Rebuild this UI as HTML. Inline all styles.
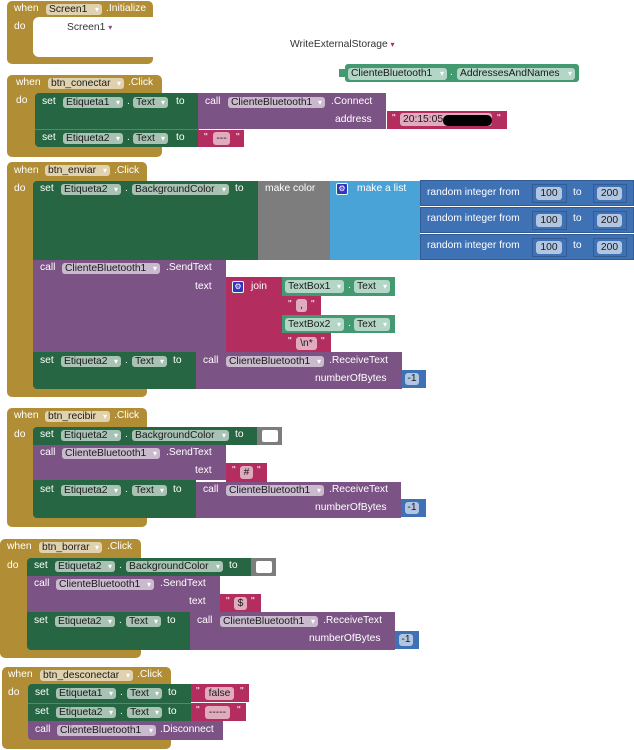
<!DOCTYPE html>
<html><head><meta charset="utf-8">
<style>
body{margin:0;width:634px;height:750px;background:#fff;position:relative;overflow:hidden;font-family:"Liberation Sans",Arial,sans-serif;font-size:10.3px}
.r{position:absolute}
.t{position:absolute;color:#fff;white-space:nowrap;line-height:12px}
.k{position:absolute;color:#333;white-space:nowrap;line-height:12px}
.d{position:absolute;background:rgba(255,255,255,.6);border-radius:3px;color:#1a1a1a;line-height:11px;padding-left:3px;box-sizing:border-box;white-space:nowrap;height:11px}
.d i{position:absolute;right:3px;top:0;font-style:normal;font-size:8px;color:#fff}
.f{position:absolute;background:rgba(255,255,255,.6);border-radius:3px;color:#1a1a1a;line-height:13px;height:13px;text-align:center;white-space:nowrap}
.G{background:#b18e35}
.S{background:#266643}
.P{background:#7c5385}
.M{background:#b32d5e}
.C{background:#439970}
.B{background:#3f71b5}
.L{background:#4aa3d6}
.Y{background:#7d7d7d}
.gear{position:absolute;width:10px;height:10px;background:#3434c0;border:1px solid #dfe;border-radius:2px;color:#fff;font-family:"DejaVu Sans",sans-serif;font-size:8px;line-height:10px;text-align:center}
.sep{position:absolute;height:1px;background:rgba(255,255,255,.22)}
.bw{position:absolute;border:1px solid rgba(0,0,0,.18);box-sizing:border-box}
</style></head><body>

<!-- Screen1.Initialize -->
<div class="r G" style="left:7px;top:1px;width:146px;height:63px;border-radius:5px"></div>
<div class="r" style="left:33px;top:17px;width:121px;height:40px;background:#fff;border-radius:6px 0 0 6px"></div>
<div class="t" style="left:14px;top:3px">when</div>
<div class="d" style="left:46px;top:4px;width:56px">Screen1<i>▾</i></div>
<div class="t" style="left:106px;top:3px">.Initialize</div>
<div class="t" style="left:14px;top:21px">do</div>
<div class="k" style="left:67px;top:22px">Screen1 <span style="color:#7c5385;font-size:8px">▾</span></div>
<div class="k" style="left:290px;top:39px">WriteExternalStorage <span style="color:#b32d5e;font-size:8px">▾</span></div>

<!-- AddressesAndNames -->
<div class="r C" style="left:339px;top:69px;width:8px;height:8px"></div>
<div class="r C" style="left:345px;top:64px;width:234px;height:18px;border-radius:3px"></div>
<div class="d" style="left:348px;top:68px;width:99px;height:12px;line-height:12px">ClienteBluetooth1<i>▾</i></div>
<div class="t" style="left:450px;top:67px">.</div>
<div class="d" style="left:457px;top:68px;width:118px;height:12px;line-height:12px">AddressesAndNames<i>▾</i></div>

<!-- btn_conectar -->
<div class="r G" style="left:7px;top:75px;width:155px;height:82px;border-radius:5px"></div>
<div class="t" style="left:16px;top:77px">when</div>
<div class="d" style="left:48px;top:78px;width:76px">btn_conectar<i>▾</i></div>
<div class="t" style="left:128px;top:77px">.Click</div>
<div class="t" style="left:16px;top:95px">do</div>
<div class="r S" style="left:35px;top:93px;width:164px;height:54px;border-radius:4px 0 0 4px"></div>
<div class="sep" style="left:35px;top:129px;width:164px"></div>
<div class="t" style="left:42px;top:96px">set</div>
<div class="d" style="left:63px;top:97px;width:60px">Etiqueta1<i>▾</i></div>
<div class="t" style="left:127px;top:96px">.</div>
<div class="d" style="left:133px;top:97px;width:35px">Text<i>▾</i></div>
<div class="t" style="left:176px;top:96px">to</div>
<div class="r P" style="left:198px;top:93px;width:188px;height:36px"></div>
<div class="t" style="left:205px;top:96px">call</div>
<div class="d" style="left:228px;top:97px;width:97px">ClienteBluetooth1<i>▾</i></div>
<div class="t" style="left:331px;top:96px">.Connect</div>
<div class="t" style="left:335px;top:114px">address</div>
<div class="r M" style="left:387px;top:111px;width:120px;height:18px"></div>
<div class="t" style="left:392px;top:113px">"</div>
<div class="f" style="left:400px;top:113px;width:92px;text-align:left;padding-left:3px;box-sizing:border-box">20:15:05</div>
<div class="r" style="left:443px;top:115px;width:49px;height:11px;background:#000;border-radius:5px"></div>
<div class="t" style="left:497px;top:113px">"</div>
<div class="t" style="left:42px;top:132px">set</div>
<div class="d" style="left:63px;top:133px;width:60px">Etiqueta2<i>▾</i></div>
<div class="t" style="left:127px;top:132px">.</div>
<div class="d" style="left:133px;top:133px;width:35px">Text<i>▾</i></div>
<div class="t" style="left:176px;top:132px">to</div>
<div class="r M" style="left:198px;top:130px;width:46px;height:17px"></div>
<div class="t" style="left:204px;top:132px">"</div>
<div class="f" style="left:213px;top:132px;width:17px">---</div>
<div class="t" style="left:236px;top:132px">"</div>

<!-- btn_enviar -->
<div class="r G" style="left:7px;top:162px;width:140px;height:235px;border-radius:5px"></div>
<div class="t" style="left:14px;top:165px">when</div>
<div class="d" style="left:45px;top:165px;width:65px">btn_enviar<i>▾</i></div>
<div class="t" style="left:114px;top:165px">.Click</div>
<div class="t" style="left:14px;top:183px">do</div>
<div class="r S" style="left:33px;top:181px;width:225px;height:79px;border-radius:4px 0 0 0"></div>
<div class="r P" style="left:33px;top:260px;width:193px;height:92px"></div>
<div class="r S" style="left:33px;top:352px;width:163px;height:37px;border-radius:0 0 0 4px"></div>
<div class="t" style="left:40px;top:183px">set</div>
<div class="d" style="left:61px;top:184px;width:60px">Etiqueta2<i>▾</i></div>
<div class="t" style="left:125px;top:183px">.</div>
<div class="d" style="left:132px;top:184px;width:97px">BackgroundColor<i>▾</i></div>
<div class="t" style="left:235px;top:183px">to</div>
<div class="r Y" style="left:258px;top:181px;width:72px;height:79px"></div>
<div class="t" style="left:265px;top:183px">make color</div>
<div class="r L" style="left:330px;top:181px;width:90px;height:79px"></div>
<div class="gear" style="left:336px;top:183px">⚙</div>
<div class="t" style="left:357px;top:183px">make a list</div>

<div class="r B bw" style="left:420px;top:180px;width:214px;height:26px"></div>
<div class="r B bw" style="left:420px;top:207px;width:214px;height:26px"></div>
<div class="r B bw" style="left:420px;top:234px;width:214px;height:26px"></div>
<div class="t" style="left:427px;top:187px">random integer from</div>
<div class="t" style="left:427px;top:213px">random integer from</div>
<div class="t" style="left:427px;top:240px">random integer from</div>
<div class="r B bw" style="left:532px;top:184px;width:35px;height:19px"></div>
<div class="r B bw" style="left:532px;top:211px;width:35px;height:19px"></div>
<div class="r B bw" style="left:532px;top:238px;width:35px;height:19px"></div>
<div class="f" style="left:536px;top:187px;width:26px">100</div>
<div class="f" style="left:536px;top:214px;width:26px">100</div>
<div class="f" style="left:536px;top:241px;width:26px">100</div>
<div class="t" style="left:573px;top:187px">to</div>
<div class="t" style="left:573px;top:213px">to</div>
<div class="t" style="left:573px;top:240px">to</div>
<div class="r B bw" style="left:593px;top:184px;width:34px;height:19px"></div>
<div class="r B bw" style="left:593px;top:211px;width:34px;height:19px"></div>
<div class="r B bw" style="left:593px;top:238px;width:34px;height:19px"></div>
<div class="f" style="left:597px;top:187px;width:25px">200</div>
<div class="f" style="left:597px;top:214px;width:25px">200</div>
<div class="f" style="left:597px;top:241px;width:25px">200</div>

<div class="t" style="left:40px;top:262px">call</div>
<div class="d" style="left:62px;top:263px;width:98px">ClienteBluetooth1<i>▾</i></div>
<div class="t" style="left:166px;top:262px">.SendText</div>
<div class="t" style="left:195px;top:281px">text</div>
<div class="r M" style="left:226px;top:277px;width:56px;height:75px"></div>
<div class="gear" style="left:232px;top:281px">⚙</div>
<div class="t" style="left:251px;top:281px">join</div>
<div class="r C" style="left:282px;top:277px;width:113px;height:19px"></div>
<div class="d" style="left:285px;top:280px;width:59px;height:13px;line-height:13px">TextBox1<i>▾</i></div>
<div class="t" style="left:348px;top:280px">.</div>
<div class="d" style="left:354px;top:280px;width:36px;height:13px;line-height:13px">Text<i>▾</i></div>
<div class="r M" style="left:282px;top:296px;width:39px;height:19px"></div>
<div class="t" style="left:288px;top:299px">"</div>
<div class="f" style="left:296px;top:299px;width:11px">,</div>
<div class="t" style="left:311px;top:299px">"</div>
<div class="r C" style="left:282px;top:315px;width:113px;height:18px"></div>
<div class="d" style="left:285px;top:318px;width:59px;height:13px;line-height:13px">TextBox2<i>▾</i></div>
<div class="t" style="left:348px;top:318px">.</div>
<div class="d" style="left:354px;top:318px;width:36px;height:13px;line-height:13px">Text<i>▾</i></div>
<div class="r M" style="left:282px;top:333px;width:49px;height:19px"></div>
<div class="t" style="left:288px;top:336px">"</div>
<div class="f" style="left:296px;top:337px;width:21px">\n*</div>
<div class="t" style="left:321px;top:336px">"</div>

<div class="t" style="left:40px;top:355px">set</div>
<div class="d" style="left:61px;top:356px;width:60px">Etiqueta2<i>▾</i></div>
<div class="t" style="left:125px;top:355px">.</div>
<div class="d" style="left:132px;top:356px;width:35px">Text<i>▾</i></div>
<div class="t" style="left:173px;top:355px">to</div>
<div class="r P" style="left:196px;top:352px;width:206px;height:37px"></div>
<div class="t" style="left:203px;top:355px">call</div>
<div class="d" style="left:226px;top:356px;width:98px">ClienteBluetooth1<i>▾</i></div>
<div class="t" style="left:329px;top:355px">.ReceiveText</div>
<div class="t" style="left:315px;top:373px">numberOfBytes</div>
<div class="r B" style="left:402px;top:370px;width:24px;height:18px"></div>
<div class="f" style="left:405px;top:373px;width:14px;height:12px;line-height:12px">-1</div>

<!-- btn_recibir -->
<div class="r G" style="left:7px;top:408px;width:140px;height:119px;border-radius:5px"></div>
<div class="t" style="left:14px;top:410px">when</div>
<div class="d" style="left:45px;top:411px;width:65px">btn_recibir<i>▾</i></div>
<div class="t" style="left:114px;top:410px">.Click</div>
<div class="t" style="left:14px;top:429px">do</div>
<div class="r S" style="left:33px;top:427px;width:224px;height:18px;border-radius:4px 0 0 0"></div>
<div class="t" style="left:40px;top:429px">set</div>
<div class="d" style="left:61px;top:430px;width:60px">Etiqueta2<i>▾</i></div>
<div class="t" style="left:125px;top:429px">.</div>
<div class="d" style="left:132px;top:430px;width:97px">BackgroundColor<i>▾</i></div>
<div class="t" style="left:235px;top:429px">to</div>
<div class="r Y" style="left:257px;top:427px;width:25px;height:18px"></div>
<div class="r" style="left:262px;top:430px;width:16px;height:12px;background:#fff;border-radius:2px"></div>
<div class="r P" style="left:33px;top:445px;width:193px;height:35px"></div>
<div class="t" style="left:40px;top:447px">call</div>
<div class="d" style="left:62px;top:448px;width:98px">ClienteBluetooth1<i>▾</i></div>
<div class="t" style="left:166px;top:447px">.SendText</div>
<div class="t" style="left:195px;top:465px">text</div>
<div class="r M" style="left:226px;top:463px;width:41px;height:19px"></div>
<div class="t" style="left:232px;top:465px">"</div>
<div class="f" style="left:240px;top:466px;width:13px">#</div>
<div class="t" style="left:257px;top:465px">"</div>
<div class="r S" style="left:33px;top:480px;width:163px;height:38px;border-radius:0 0 0 4px"></div>
<div class="t" style="left:40px;top:484px">set</div>
<div class="d" style="left:61px;top:485px;width:60px">Etiqueta2<i>▾</i></div>
<div class="t" style="left:125px;top:484px">.</div>
<div class="d" style="left:132px;top:485px;width:35px">Text<i>▾</i></div>
<div class="t" style="left:173px;top:484px">to</div>
<div class="r P" style="left:196px;top:482px;width:205px;height:36px"></div>
<div class="t" style="left:203px;top:484px">call</div>
<div class="d" style="left:226px;top:485px;width:98px">ClienteBluetooth1<i>▾</i></div>
<div class="t" style="left:329px;top:484px">.ReceiveText</div>
<div class="t" style="left:315px;top:502px">numberOfBytes</div>
<div class="r B" style="left:401px;top:499px;width:25px;height:18px"></div>
<div class="f" style="left:405px;top:502px;width:14px;height:12px;line-height:12px">-1</div>

<!-- btn_borrar -->
<div class="r G" style="left:0px;top:539px;width:141px;height:119px;border-radius:5px"></div>
<div class="t" style="left:7px;top:541px">when</div>
<div class="d" style="left:39px;top:542px;width:63px">btn_borrar<i>▾</i></div>
<div class="t" style="left:107px;top:541px">.Click</div>
<div class="t" style="left:7px;top:560px">do</div>
<div class="r S" style="left:27px;top:558px;width:224px;height:18px;border-radius:4px 0 0 0"></div>
<div class="t" style="left:34px;top:560px">set</div>
<div class="d" style="left:55px;top:561px;width:60px">Etiqueta2<i>▾</i></div>
<div class="t" style="left:119px;top:560px">.</div>
<div class="d" style="left:126px;top:561px;width:97px">BackgroundColor<i>▾</i></div>
<div class="t" style="left:229px;top:560px">to</div>
<div class="r Y" style="left:251px;top:558px;width:25px;height:18px"></div>
<div class="r" style="left:256px;top:561px;width:16px;height:12px;background:#fff;border-radius:2px"></div>
<div class="r P" style="left:27px;top:576px;width:193px;height:36px"></div>
<div class="t" style="left:34px;top:578px">call</div>
<div class="d" style="left:56px;top:579px;width:98px">ClienteBluetooth1<i>▾</i></div>
<div class="t" style="left:160px;top:578px">.SendText</div>
<div class="t" style="left:189px;top:596px">text</div>
<div class="r M" style="left:220px;top:594px;width:41px;height:18px"></div>
<div class="t" style="left:226px;top:596px">"</div>
<div class="f" style="left:234px;top:597px;width:13px">$</div>
<div class="t" style="left:251px;top:596px">"</div>
<div class="r S" style="left:27px;top:612px;width:163px;height:38px;border-radius:0 0 0 4px"></div>
<div class="t" style="left:34px;top:615px">set</div>
<div class="d" style="left:55px;top:616px;width:60px">Etiqueta2<i>▾</i></div>
<div class="t" style="left:119px;top:615px">.</div>
<div class="d" style="left:126px;top:616px;width:35px">Text<i>▾</i></div>
<div class="t" style="left:167px;top:615px">to</div>
<div class="r P" style="left:190px;top:612px;width:205px;height:38px"></div>
<div class="t" style="left:197px;top:615px">call</div>
<div class="d" style="left:220px;top:616px;width:98px">ClienteBluetooth1<i>▾</i></div>
<div class="t" style="left:323px;top:615px">.ReceiveText</div>
<div class="t" style="left:309px;top:633px">numberOfBytes</div>
<div class="r B" style="left:395px;top:631px;width:24px;height:18px"></div>
<div class="f" style="left:399px;top:634px;width:14px;height:12px;line-height:12px">-1</div>

<!-- btn_desconectar -->
<div class="r G" style="left:2px;top:667px;width:169px;height:82px;border-radius:5px"></div>
<div class="t" style="left:8px;top:669px">when</div>
<div class="d" style="left:40px;top:670px;width:93px">btn_desconectar<i>▾</i></div>
<div class="t" style="left:137px;top:669px">.Click</div>
<div class="t" style="left:8px;top:687px">do</div>
<div class="r S" style="left:28px;top:684px;width:163px;height:37px;border-radius:4px 0 0 0"></div>
<div class="sep" style="left:28px;top:703px;width:163px"></div>
<div class="t" style="left:35px;top:687px">set</div>
<div class="d" style="left:56px;top:688px;width:60px">Etiqueta1<i>▾</i></div>
<div class="t" style="left:120px;top:687px">.</div>
<div class="d" style="left:127px;top:688px;width:35px">Text<i>▾</i></div>
<div class="t" style="left:168px;top:687px">to</div>
<div class="r M" style="left:191px;top:684px;width:58px;height:18px"></div>
<div class="t" style="left:196px;top:686px">"</div>
<div class="f" style="left:205px;top:687px;width:29px">false</div>
<div class="t" style="left:240px;top:686px">"</div>
<div class="t" style="left:35px;top:706px">set</div>
<div class="d" style="left:56px;top:707px;width:60px">Etiqueta2<i>▾</i></div>
<div class="t" style="left:120px;top:706px">.</div>
<div class="d" style="left:127px;top:707px;width:35px">Text<i>▾</i></div>
<div class="t" style="left:168px;top:706px">to</div>
<div class="r M" style="left:191px;top:703px;width:55px;height:18px"></div>
<div class="t" style="left:196px;top:705px">"</div>
<div class="f" style="left:205px;top:706px;width:25px">-----</div>
<div class="t" style="left:237px;top:705px">"</div>
<div class="r P" style="left:28px;top:721px;width:195px;height:19px;border-radius:0 0 0 4px"></div>
<div class="t" style="left:35px;top:724px">call</div>
<div class="d" style="left:57px;top:725px;width:99px">ClienteBluetooth1<i>▾</i></div>
<div class="t" style="left:160px;top:724px">.Disconnect</div>

</body></html>
